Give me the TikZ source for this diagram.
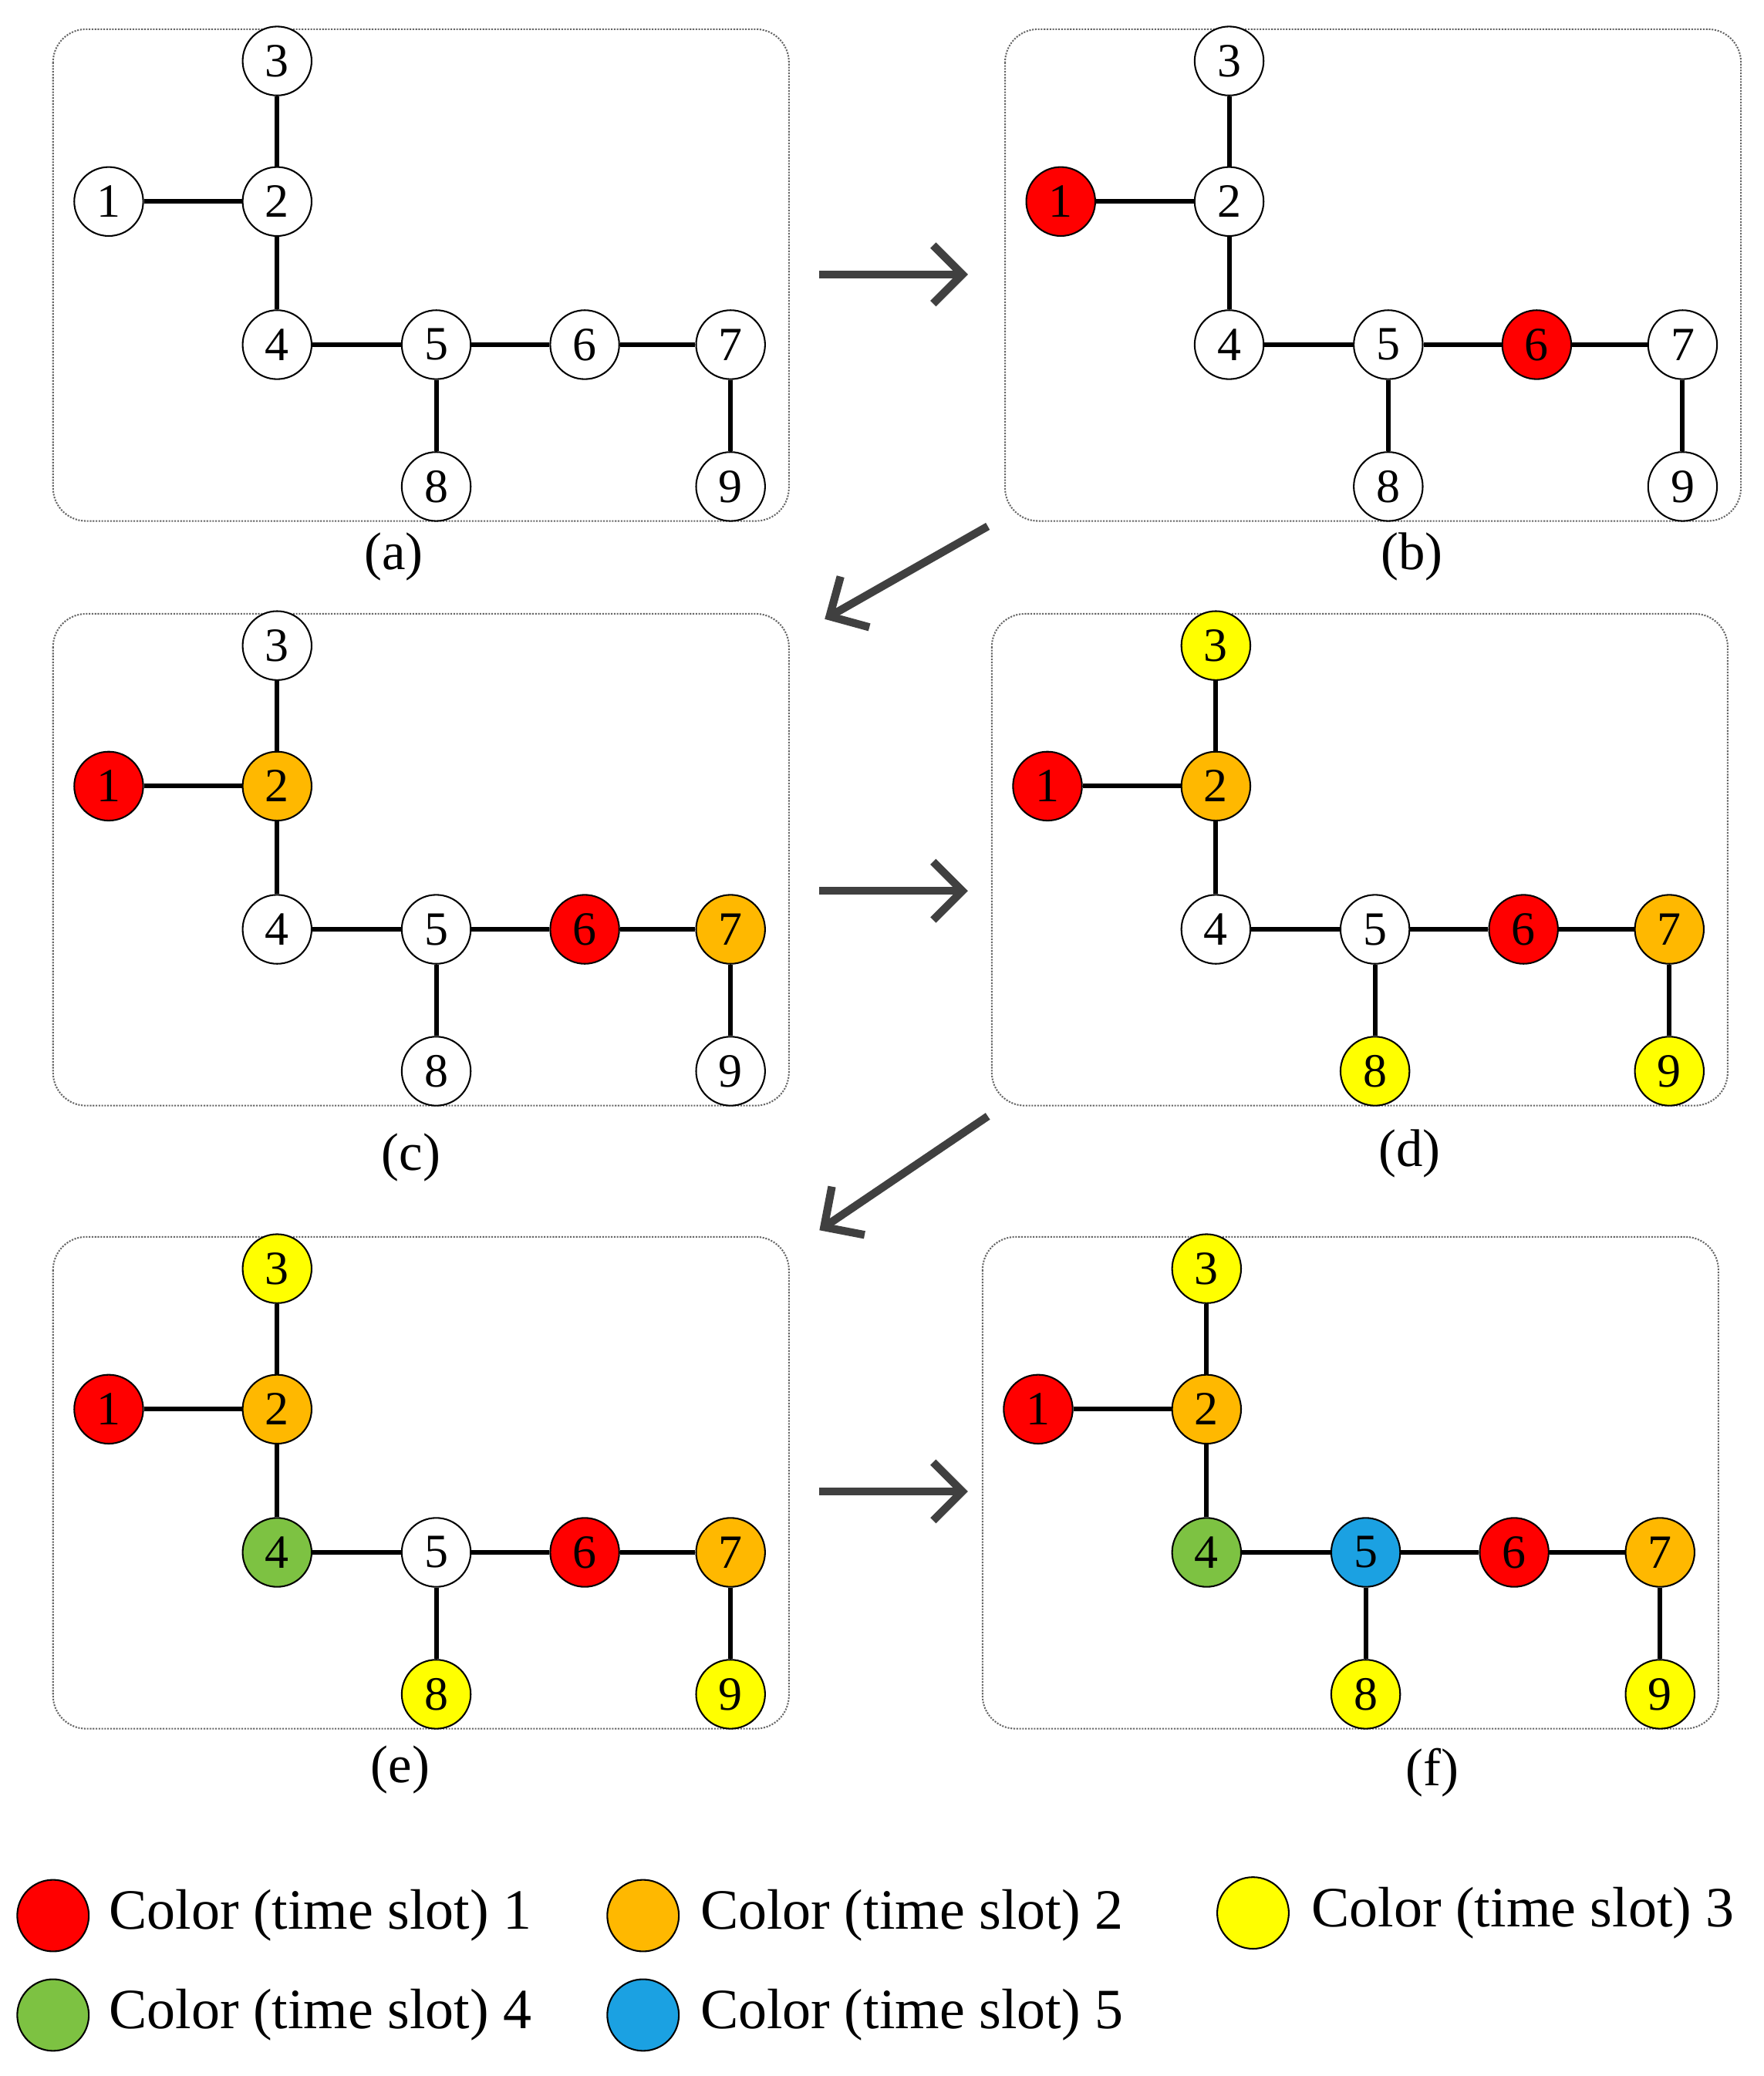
\documentclass[tikz,border=0pt]{standalone}
\usepackage{fontspec}
\setmainfont{Liberation Serif}
\usetikzlibrary{arrows.meta}
\definecolor{cR}{HTML}{FF0000}
\definecolor{cO}{HTML}{FFB800}
\definecolor{cY}{HTML}{FFFF00}
\definecolor{cG}{HTML}{7DC242}
\definecolor{cB}{HTML}{1BA1E2}
\definecolor{arr}{HTML}{404040}
\tikzset{
 box/.style={draw=gray!80!black,densely dotted,line width=1.2pt,rounded corners=25pt},
 v/.style={circle,draw=black,line width=1.2pt,minimum size=52pt,inner sep=0pt,font=\fontsize{36}{36}\selectfont},
 e/.style={line width=3.5pt},
 lab/.style={font=\fontsize{40}{40}\selectfont},
 bigarrow/.style={draw=arr,line width=6pt,-{Straight Barb[length=22pt,width=44pt,line width=6pt]}},
 leg/.style={circle,draw=black,line width=1.2pt,minimum size=54pt,inner sep=0pt},
 legt/.style={anchor=west,inner sep=0pt,font=\fontsize{43}{43}\selectfont}
}
\newcommand\mypanel[6]{%
 \begin{scope}[shift={(#2,#3)}]
  \draw[box] (40,22) rectangle (595,393);
  \coordinate (#1p1) at (82,152); \coordinate (#1p2) at (209,152);
  \coordinate (#1p3) at (209,46); \coordinate (#1p4) at (209,260);
  \coordinate (#1p5) at (329,260); \coordinate (#1p6) at (441,260);
  \coordinate (#1p7) at (551,260); \coordinate (#1p8) at (329,367);
  \coordinate (#1p9) at (551,367);
  \foreach \c [count=\i] in {#5} \node[v,fill=\c] (#1n\i) at (#1p\i) {\i};
  \foreach \a/\b in {1/2,2/3,2/4,4/5,5/6,6/7,5/8,7/9} \draw[e] (#1n\a) -- (#1n\b);
  \node[lab] (#1lab) at (#4,#6) {(#1)};
 \end{scope}}
\begin{document}
\begin{tikzpicture}[x=1pt,y=-1pt]
\useasboundingbox (0,0) rectangle (1330,1566);
\mypanel{a}{0}{0}{297}{white,white,white,white,white,white,white,white,white}{420}
\mypanel{b}{718}{0}{347}{cR,white,white,white,white,cR,white,white,white}{420}
\mypanel{c}{0}{441}{310}{cR,cO,white,white,white,cR,cO,white,white}{432}
\mypanel{d}{708}{441}{355}{cR,cO,cY,white,white,cR,cO,cY,cY}{429}
\mypanel{e}{0}{911}{302}{cR,cO,cY,cG,white,cR,cO,cY,cY}{424}
\mypanel{f}{701}{911}{379}{cR,cO,cY,cG,cB,cR,cO,cY,cY}{426}
\coordinate (r1s) at (618,207); \coordinate (r1e) at (730,207);
\coordinate (r2s) at (618,672); \coordinate (r2e) at (730,672);
\coordinate (r3s) at (618,1125); \coordinate (r3e) at (730,1125);
\coordinate (d1s) at (745,397); \coordinate (d1e) at (622,467);
\coordinate (d2s) at (745,842); \coordinate (d2e) at (618,928);
\draw[bigarrow] (r1s) -- (r1e);
\draw[bigarrow] (r2s) -- (r2e);
\draw[bigarrow] (r3s) -- (r3e);
\draw[bigarrow] (d1s) -- (d1e);
\draw[bigarrow] (d2s) -- (d2e);
\node[leg,fill=cR] (l1) at (40,1445) {}; \node[legt] (t1) at (82,1445) {Color (time slot) 1};
\node[leg,fill=cO] (l2) at (485,1445) {}; \node[legt] (t2) at (528,1445) {Color (time slot) 2};
\node[leg,fill=cY] (l3) at (945,1443) {}; \node[legt] (t3) at (989,1443) {Color (time slot) 3};
\node[leg,fill=cG] (l4) at (40,1520) {}; \node[legt] (t4) at (82,1520) {Color (time slot) 4};
\node[leg,fill=cB] (l5) at (485,1520) {}; \node[legt] (t5) at (528,1520) {Color (time slot) 5};
\end{tikzpicture}
\end{document}
